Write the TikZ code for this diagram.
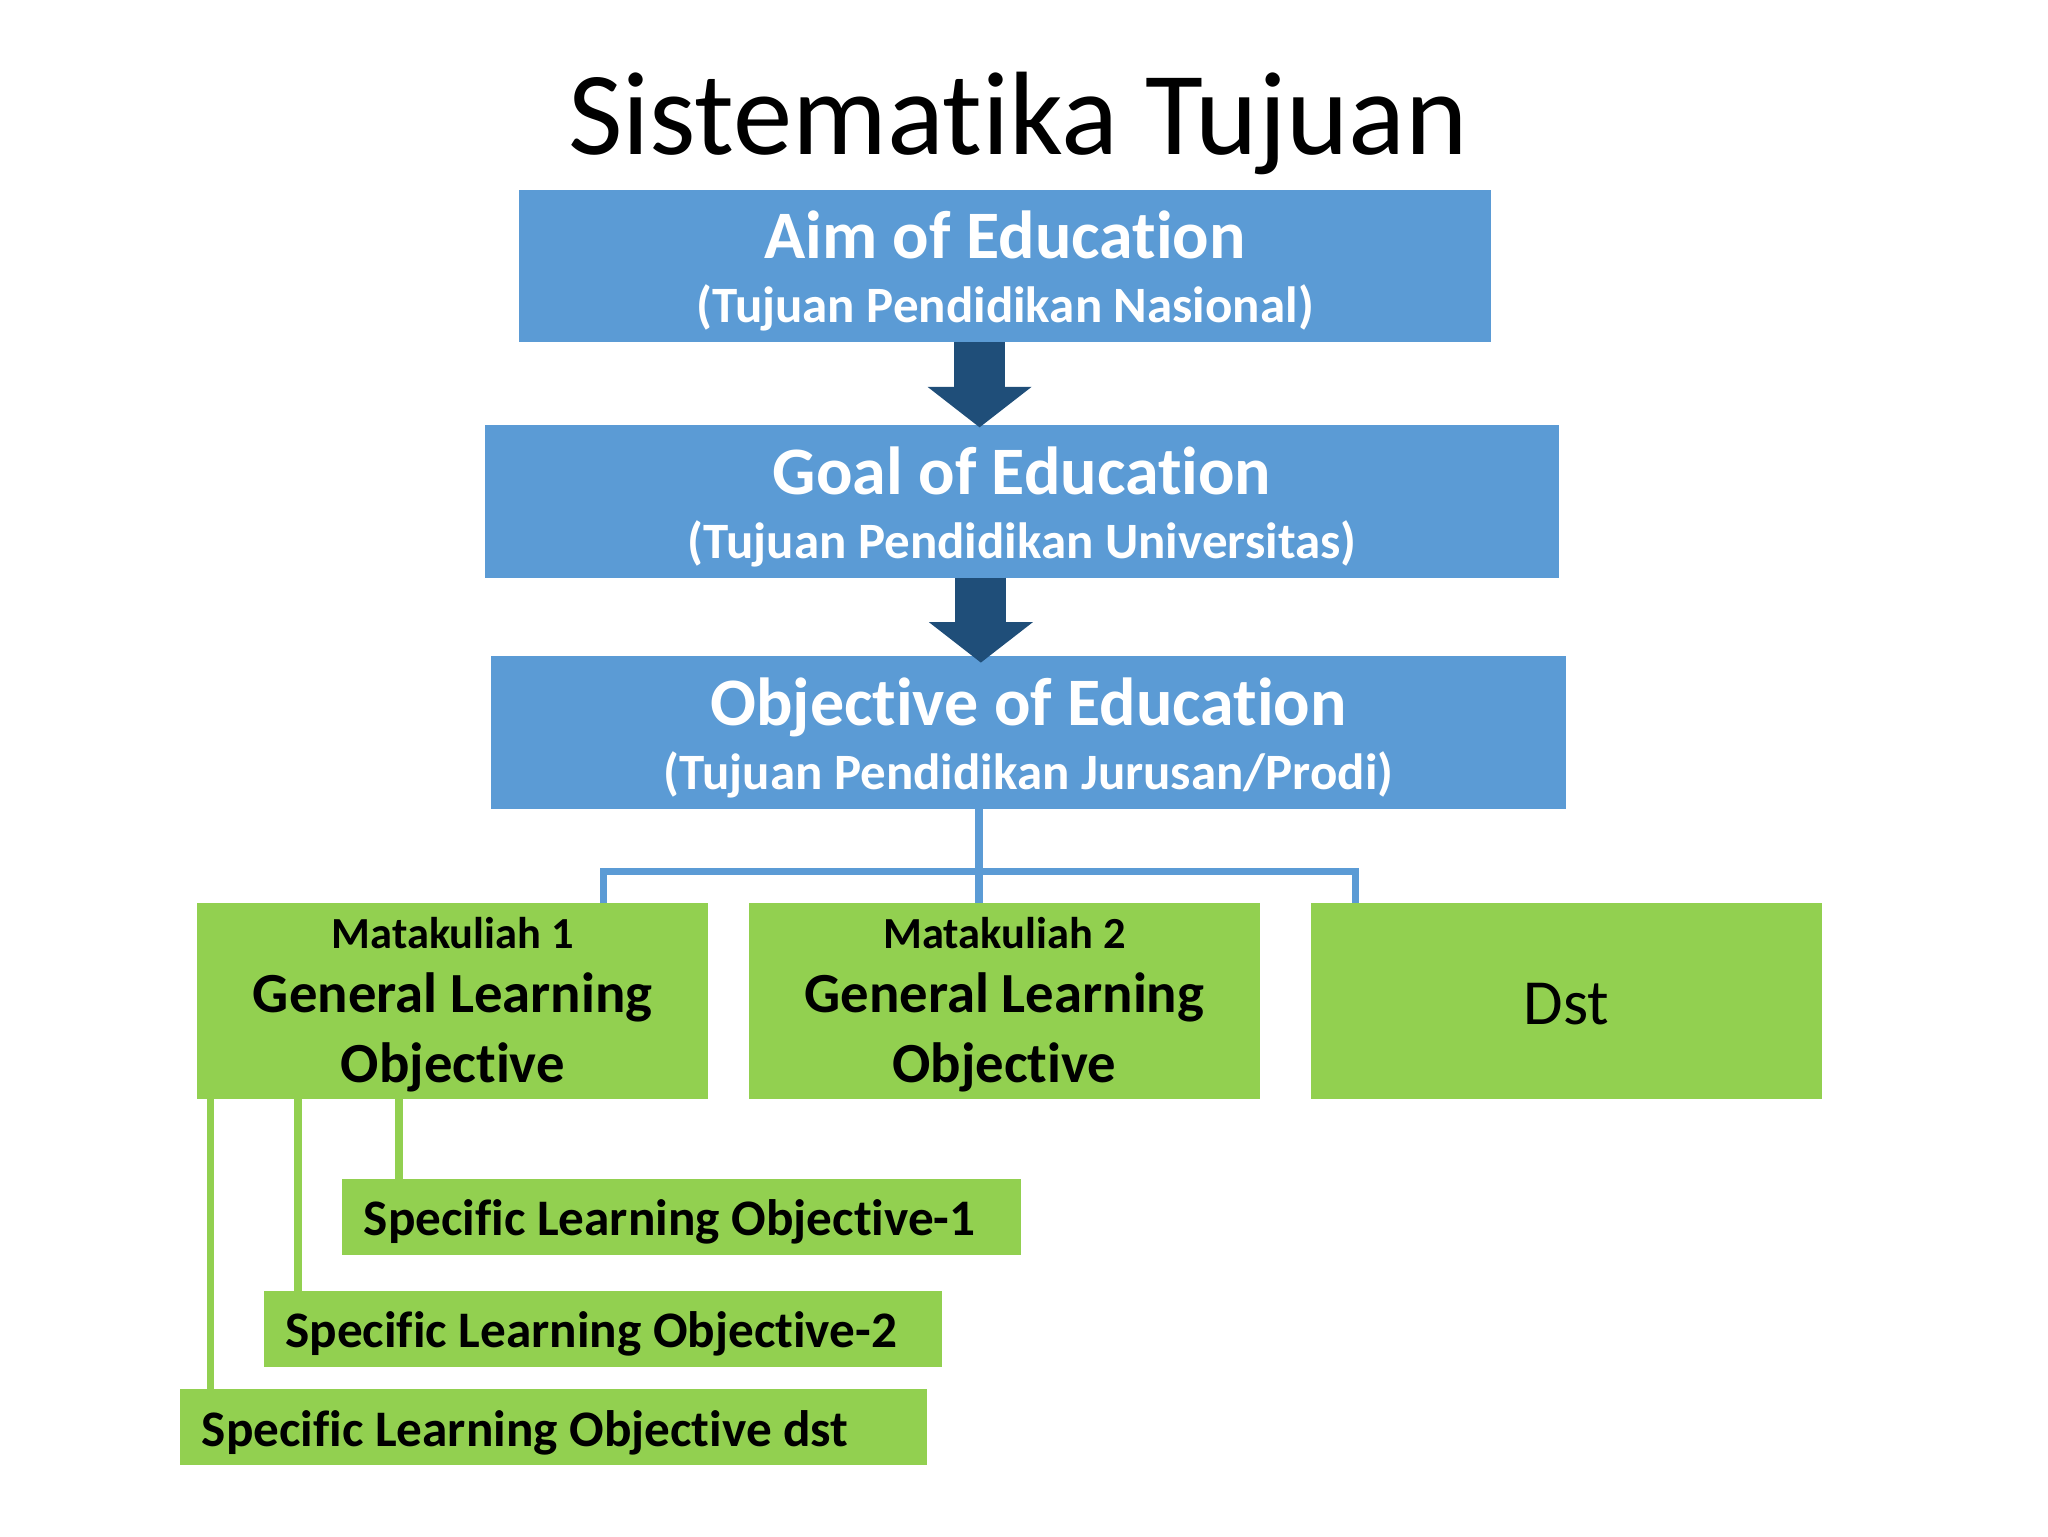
\documentclass[tikz,border=0pt]{standalone}
\usepackage{fontspec}
\setmainfont{Carlito}[Ligatures=NoCommon]
\usetikzlibrary{arrows.meta,calc}
\definecolor{boxblue}{HTML}{5B9BD5}
\definecolor{boxgreen}{HTML}{92D050}
\definecolor{arrowblue}{HTML}{1F4E79}
\begin{document}
\begin{tikzpicture}[x=0.5pt,y=-0.5pt,
  box/.style={inner sep=0pt, outer sep=0pt, anchor=north west},
  bluebox/.style={box, fill=boxblue},
  greenbox/.style={box, fill=boxgreen},
  bluetxt/.style={anchor=base, text=white, font=\bfseries\fontsize{26}{30}\selectfont, inner sep=0pt},
  bluesub/.style={anchor=base, text=white, font=\bfseries\fontsize{19.5}{23}\selectfont, inner sep=0pt},
  mktxt/.style={anchor=base, font=\bfseries\fontsize{17}{20}\selectfont, inner sep=0pt},
  gltxt/.style={anchor=base, font=\bfseries\fontsize{21.7}{26}\selectfont, inner sep=0pt},
  slotxt/.style={anchor=base west, font=\bfseries\fontsize{19.6}{23}\selectfont, inner sep=0pt},
  downarrow/.style={arrowblue, line width=19.5pt, -{Triangle[width=39pt,length=15.5pt]}},
  tree/.style={boxblue, line width=2.8pt},
  gtree/.style={boxgreen, line width=3pt}
]
\useasboundingbox (0,0) rectangle (1567,1175.25);

% title
\node[anchor=base, inner sep=0pt, font=\fontsize{45.4}{54}\selectfont] (title) at (779,118) {Sistematika Tujuan};

% blue boxes
\node[bluebox, minimum width=372pt, minimum height=58.5pt] (aim) at (397,145) {};
\node[bluebox, minimum width=411pt, minimum height=58.5pt] (goal) at (371,325) {};
\node[bluebox, minimum width=411pt, minimum height=58.5pt] (obj) at (376,502) {};

\node[bluetxt] (aimt) at (769,198) {Aim of Education};
\node[bluesub] (aims) at (769,247) {(Tujuan Pendidikan Nasional)};
\node[bluetxt] (goalt) at (782,378) {Goal of Education};
\node[bluesub] (goals) at (782,427) {(Tujuan Pendidikan Universitas)};
\node[bluetxt] (objt) at (787,555) {Objective of Education};
\node[bluesub] (objs) at (787,604) {(Tujuan Pendidikan Jurusan/Prodi)};

% arrows
\coordinate (a1s) at (749.5,262);
\coordinate (a1e) at (749.5,327);
\coordinate (a2s) at (750.5,442);
\coordinate (a2e) at (750.5,507);
\draw[downarrow] (a1s) -- (a1e);
\draw[downarrow] (a2s) -- (a2e);

% green boxes
\node[greenbox, minimum width=195.5pt, minimum height=75pt] (m1) at (151,691) {};
\node[greenbox, minimum width=195.5pt, minimum height=75pt] (m2) at (573,691) {};
\node[greenbox, minimum width=195.5pt, minimum height=75pt] (dst) at (1003,691) {};

\node[mktxt] (m1a) at (346.5,726) {Matakuliah 1};
\node[gltxt] (m1b) at (346.5,775) {General Learning};
\node[gltxt] (m1c) at (346.5,828) {Objective};
\node[mktxt] (m2a) at (768.5,726) {Matakuliah 2};
\node[gltxt] (m2b) at (768.5,775) {General Learning};
\node[gltxt] (m2c) at (768.5,828) {Objective};
\node[anchor=base, inner sep=0pt, font=\fontsize{24.6}{29}\selectfont] (dstt) at (1198.5,784) {Dst};

% tree connector
\coordinate (tj) at (749,667);
\coordinate (tl) at (462,667);
\coordinate (tr) at (1037,667);
\draw[tree] (749,619) -- (749,691);
\draw[tree] (462,691) -- (tl) -- (tr) -- (1037,691);

% specific boxes
\node[greenbox, minimum width=259.5pt, minimum height=29pt] (s1) at (262,902) {};
\node[greenbox, minimum width=259.5pt, minimum height=29pt] (s2) at (202,988) {};
\node[greenbox, minimum width=285.5pt, minimum height=29pt] (s3) at (138,1063) {};

\node[slotxt] (s1t) at (278,945) {Specific Learning Objective-1};
\node[slotxt] (s2t) at (218,1031) {Specific Learning Objective-2};
\node[slotxt] (s3t) at (154,1107) {Specific Learning Objective dst};

% green connectors
\draw[gtree] (305,841) -- (305,902);
\draw[gtree] (228,841) -- (228,988);
\draw[gtree] (161,841) -- (161,1063);
\end{tikzpicture}
\end{document}
